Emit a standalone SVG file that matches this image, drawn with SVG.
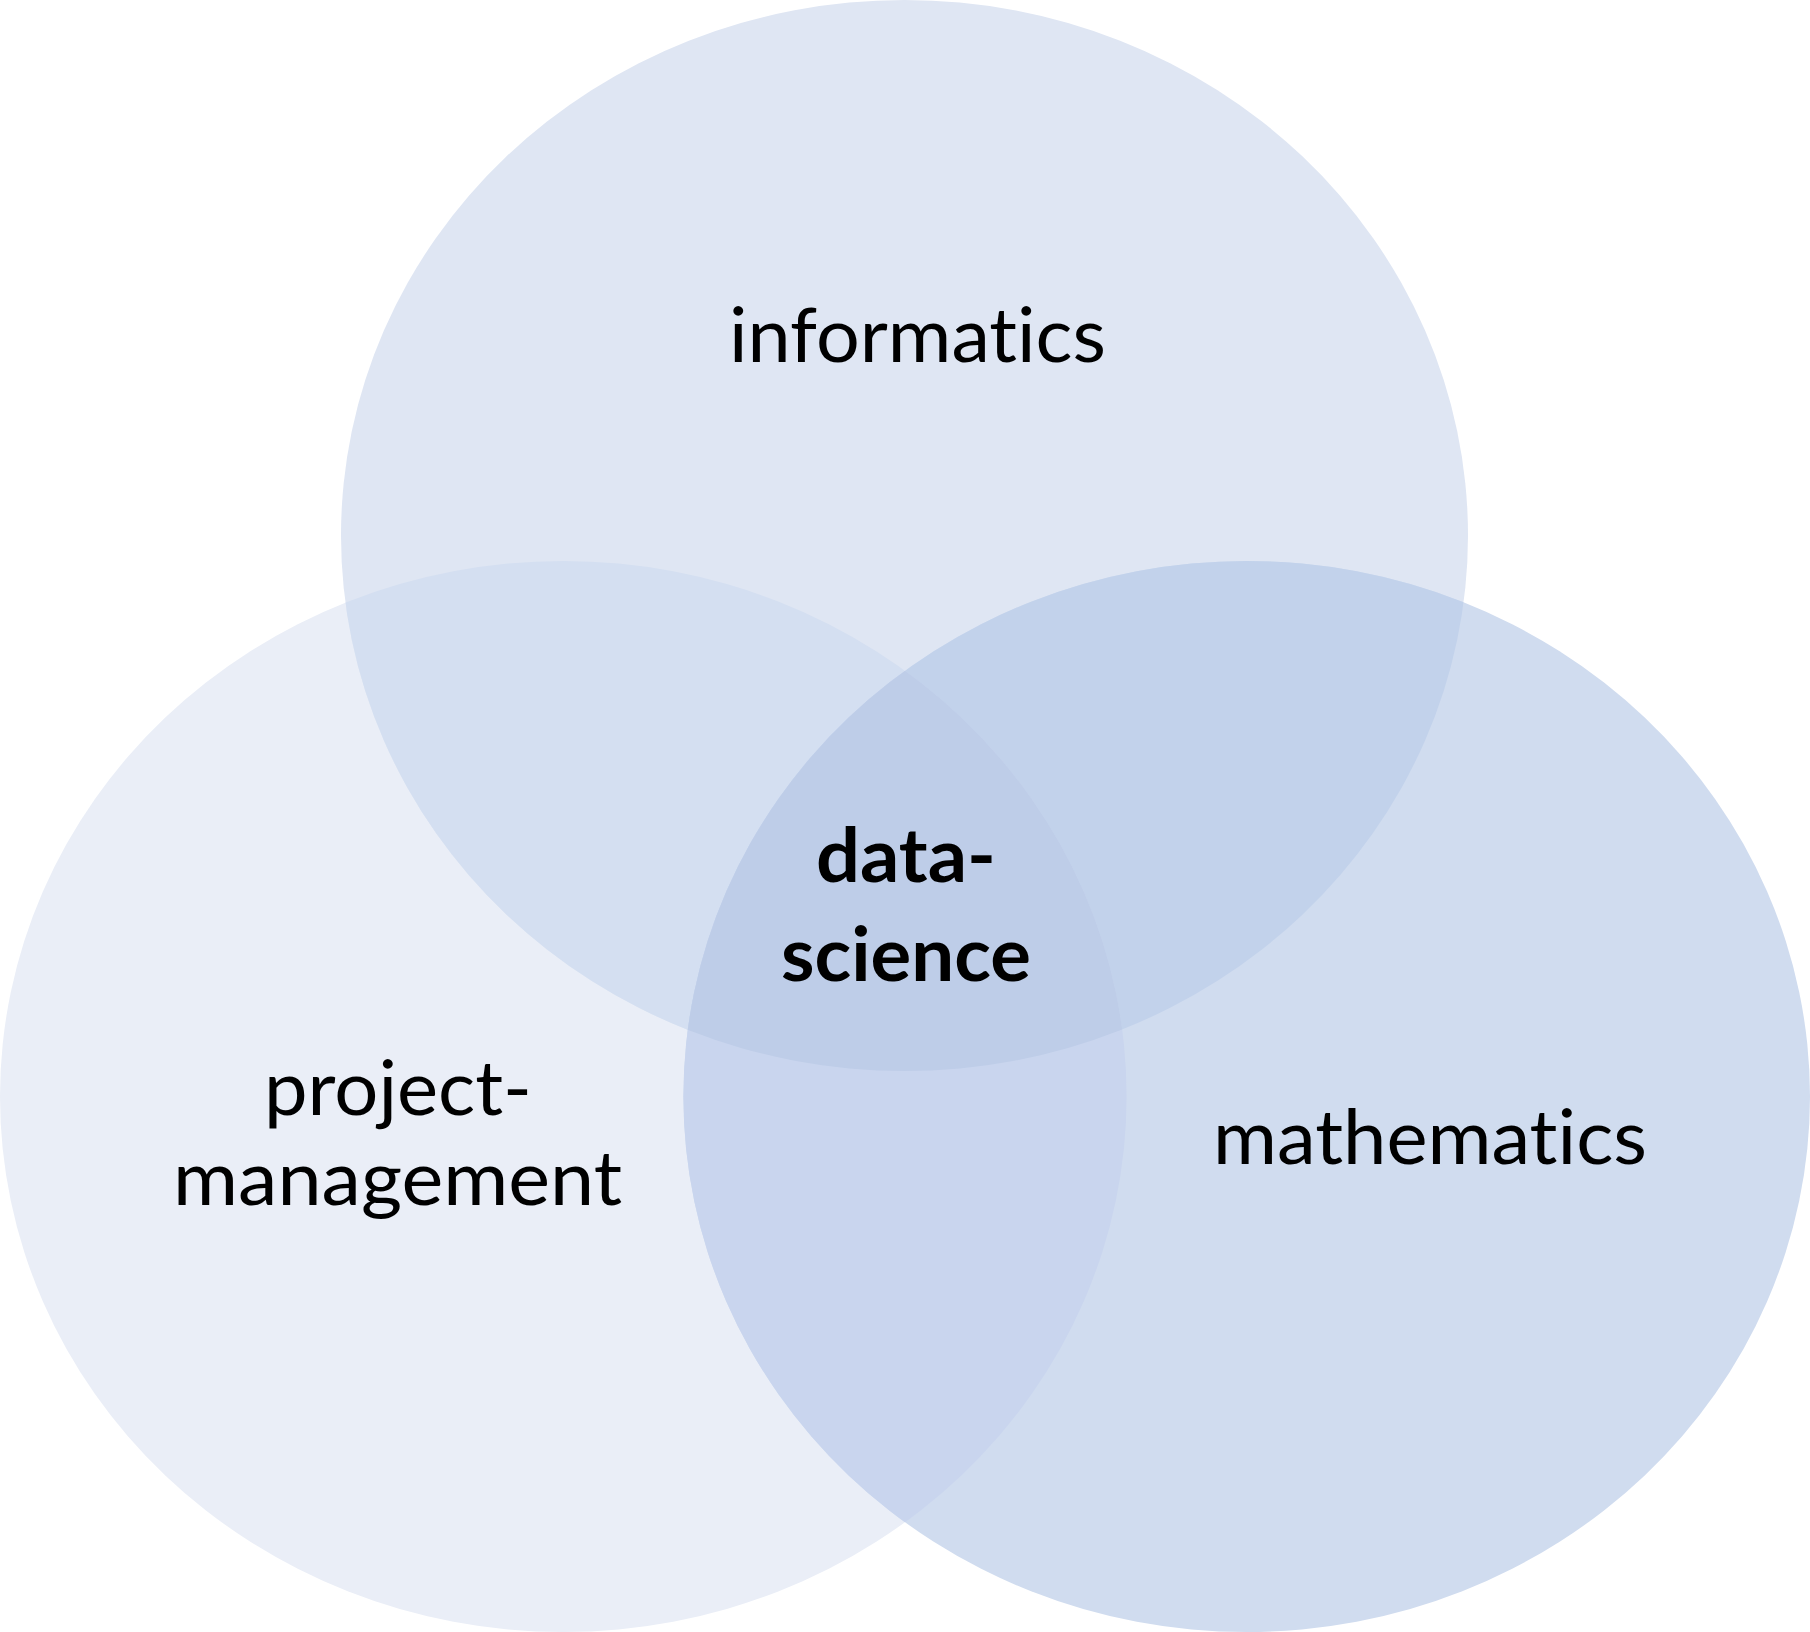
<svg xmlns="http://www.w3.org/2000/svg" width="1810" height="1632" viewBox="0 0 1810 1632">
  <style>
    .lbl { font-family: Lato, "Open Sans", "Liberation Sans", sans-serif; font-size: 75px; fill: #000000; font-variant-ligatures: none; font-feature-settings: "liga" 0, "clig" 0, "dlig" 0; }
    .bold { font-weight: bold; }
  </style>
  <defs>
    <clipPath id="clipT"><ellipse cx="904.5" cy="535.5" rx="563.5" ry="535.5"/></clipPath>
    <clipPath id="clipL"><ellipse cx="563.3" cy="1096.5" rx="563.3" ry="535.5"/></clipPath>
  </defs>
  <rect x="0" y="0" width="1810" height="1632" fill="#ffffff"/>

  <g id="node-project-management">
    <ellipse cx="563.3" cy="1096.5" rx="563.3" ry="535.5" fill="#EAEEF7"/>
    <text class="lbl" x="264" y="1115" textLength="268" lengthAdjust="spacingAndGlyphs">project-</text>
    <text class="lbl" x="173" y="1205" textLength="449" lengthAdjust="spacingAndGlyphs">management</text>
  </g>

  <g id="node-informatics">
    <ellipse cx="904.5" cy="535.5" rx="563.5" ry="535.5" fill="#DFE6F3"/>
    <text class="lbl" x="729" y="362" textLength="377" lengthAdjust="spacingAndGlyphs">informatics</text>
  </g>

  <g id="node-mathematics">
    <ellipse cx="1246.7" cy="1096.5" rx="563.3" ry="535.5" fill="#D0DCEF"/>
    <text class="lbl" x="1213" y="1164" textLength="434" lengthAdjust="spacingAndGlyphs">mathematics</text>
  </g>

  <g id="overlaps">
    <ellipse cx="563.3" cy="1096.5" rx="563.3" ry="535.5" fill="#D4DFF1" clip-path="url(#clipT)"/>
    <ellipse cx="1246.7" cy="1096.5" rx="563.3" ry="535.5" fill="#C2D2EB" clip-path="url(#clipT)"/>
    <ellipse cx="1246.7" cy="1096.5" rx="563.3" ry="535.5" fill="#C9D5EE" clip-path="url(#clipL)"/>
    <g clip-path="url(#clipT)">
      <ellipse cx="1246.7" cy="1096.5" rx="563.3" ry="535.5" fill="#BECDE8" clip-path="url(#clipL)"/>
    </g>
  </g>

  <g id="node-data-science">
    <text class="lbl bold" x="816" y="882" textLength="180" lengthAdjust="spacingAndGlyphs">data-</text>
    <text class="lbl bold" x="781" y="981" textLength="250" lengthAdjust="spacingAndGlyphs">science</text>
  </g>
</svg>
